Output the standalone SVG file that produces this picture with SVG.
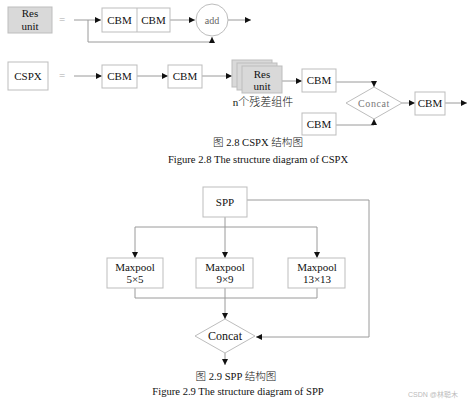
<svg xmlns="http://www.w3.org/2000/svg" width="474" height="403" viewBox="0 0 474 403">
<style>
text{font-family:"Liberation Serif",serif;fill:#111;text-anchor:middle}
.cjk{font-family:"Noto Sans CJK SC",sans-serif;font-weight:300}
.t{font-size:11px}
.box{fill:#fff;stroke:#bdbdbd;stroke-width:1}
.gbox{fill:#d9d9d9;stroke:#bdbdbd;stroke-width:1}
.ln{fill:none;stroke:#9a9a9a;stroke-width:1}
.cap{font-size:10.6px}
</style>
<defs>
<marker id="a" viewBox="0 0 6 6" refX="6" refY="3" markerWidth="6" markerHeight="6" orient="auto" markerUnits="userSpaceOnUse">
<path d="M0,0 L6,3 L0,6 z" fill="#111"/>
</marker>
</defs>

<g id="connectors">
<path class="ln" d="M74,20 H101" marker-end="url(#a)"/>
<path class="ln" d="M88,20 V42 H212 V37" marker-end="url(#a)"/>
<path class="ln" d="M170,20 H195" marker-end="url(#a)"/>
<path class="ln" d="M228,20 H251" marker-end="url(#a)"/>
<path class="ln" d="M74,76 H102" marker-end="url(#a)"/>
<path class="ln" d="M137,76 H168" marker-end="url(#a)"/>
<path class="ln" d="M202,76 H232" marker-end="url(#a)"/>
<path class="ln" d="M282,81 H302" marker-end="url(#a)"/>
<path class="ln" d="M336,82 H374 V87" marker-end="url(#a)"/>
<path class="ln" d="M336,125 H374 V119" marker-end="url(#a)"/>
<path class="ln" d="M402,103 H415" marker-end="url(#a)"/>
<path class="ln" d="M445,103 H467" marker-end="url(#a)"/>
<path class="ln" d="M225,217 V227"/>
<path class="ln" d="M135,227 H317"/>
<path class="ln" d="M135,227 V258" marker-end="url(#a)"/>
<path class="ln" d="M225,227 V258" marker-end="url(#a)"/>
<path class="ln" d="M317,227 V258" marker-end="url(#a)"/>
<path class="ln" d="M247,200 H369 V337 H256" marker-end="url(#a)"/>
<path class="ln" d="M135,288 V298 H317 V288"/>
<path class="ln" d="M225,288 V319" marker-end="url(#a)"/>
<path class="ln" d="M225,353 V365" marker-end="url(#a)"/>
</g>

<g id="res-unit">
<rect class="gbox" x="8" y="7" width="44" height="26"/>
<text class="t" x="30" y="17">Res</text>
<text class="t" x="30" y="29.5">unit</text>
</g>
<text class="t" x="62" y="23" style="fill:#aaa">=</text>
<g id="cbm-pair">
<rect class="box" x="102" y="8" width="68" height="24"/>
<line x1="137" y1="8" x2="137" y2="32" stroke="#bdbdbd"/>
<text class="t" x="119.5" y="24">CBM</text>
<text class="t" x="153.5" y="24">CBM</text>
</g>
<g id="add">
<circle cx="212" cy="20" r="16" fill="#fff" stroke="#bdbdbd"/>
<text x="212" y="23.5" style="font-size:10px;fill:#666">add</text>
</g>

<g id="cspx">
<rect class="box" x="8" y="62" width="40" height="28"/>
<text class="t" x="28" y="80">CSPX</text>
</g>
<text class="t" x="62" y="79" style="fill:#aaa">=</text>
<g id="cbm1">
<rect class="box" x="102" y="65" width="35" height="23"/>
<text class="t" x="119.5" y="80">CBM</text>
</g>
<g id="cbm2">
<rect class="box" x="168" y="65" width="34" height="23"/>
<text class="t" x="185" y="80">CBM</text>
</g>
<g id="res-stack">
<rect class="gbox" x="232" y="60" width="40" height="27"/>
<rect class="gbox" x="237" y="63" width="40" height="27"/>
<rect class="gbox" x="242" y="66" width="40" height="27"/>
<text class="t" x="262" y="78">Res</text>
<text class="t" x="262" y="90">unit</text>
<text class="t" x="263" y="106">n<tspan class="cjk">个残差组件</tspan></text>
</g>
<g id="cbm3">
<rect class="box" x="302" y="69" width="34" height="23"/>
<text class="t" x="319" y="84">CBM</text>
</g>
<g id="cbm4">
<rect class="box" x="302" y="113" width="34" height="22"/>
<text class="t" x="319" y="128">CBM</text>
</g>
<g id="concat1">
<path d="M374,87 L402,103 L374,119 L346,103 Z" fill="#fff" stroke="#bdbdbd"/>
<text x="374" y="106.5" style="font-size:10px;fill:#777;letter-spacing:0.6px">Concat</text>
</g>
<g id="cbm5">
<rect class="box" x="415" y="92" width="30" height="23"/>
<text class="t" x="430" y="107">CBM</text>
</g>
<text class="cap" x="258" y="146"><tspan class="cjk">图</tspan> 2.8 CSPX <tspan class="cjk">结构图</tspan></text>
<text class="cap" x="258" y="163">Figure 2.8 The structure diagram of CSPX</text>

<g id="spp">
<rect class="box" x="203" y="187" width="44" height="30"/>
<text class="t" x="225" y="206">SPP</text>
</g>
<g id="mp5">
<rect class="box" x="107" y="258" width="56" height="30"/>
<text class="t" x="135" y="271">Maxpool</text>
<text class="t" x="135" y="283">5×5</text>
</g>
<g id="mp9">
<rect class="box" x="196" y="258" width="57" height="30"/>
<text class="t" x="225" y="271">Maxpool</text>
<text class="t" x="225" y="283">9×9</text>
</g>
<g id="mp13">
<rect class="box" x="288" y="258" width="57" height="30"/>
<text class="t" x="317" y="271">Maxpool</text>
<text class="t" x="317" y="283">13×13</text>
</g>
<g id="concat2">
<path d="M225,319 L255,336 L225,353 L195,336 Z" fill="#fff" stroke="#bdbdbd"/>
<text x="225" y="340" style="font-size:12px">Concat</text>
</g>
<text class="cap" x="236" y="380"><tspan class="cjk">图</tspan> 2.9 SPP <tspan class="cjk">结构图</tspan></text>
<text class="cap" x="238" y="395">Figure 2.9 The structure diagram of SPP</text>
<text x="433" y="397" style="font-family:'Liberation Sans','Noto Sans CJK SC',sans-serif;font-size:7px;fill:#bbb">CSDN @林聪木</text>
</svg>
